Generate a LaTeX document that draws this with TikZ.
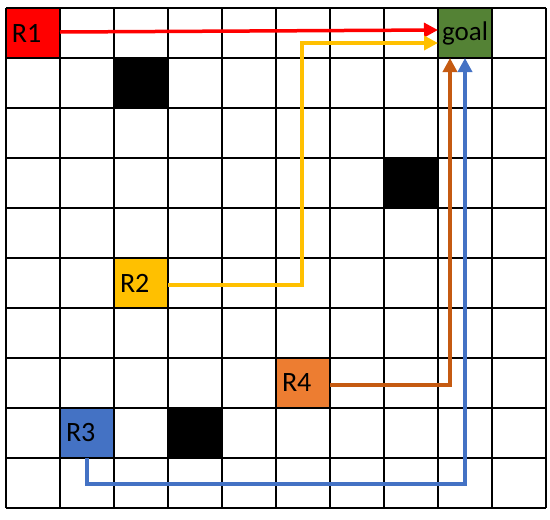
\documentclass[tikz,border=0pt]{standalone}
\usepackage{fontspec}
\setmainfont{Carlito}
\usetikzlibrary{arrows.meta}
\definecolor{cred}{HTML}{FF0000}
\definecolor{cgreen}{HTML}{548235}
\definecolor{cyellow}{HTML}{FFC000}
\definecolor{cblue}{HTML}{4472C4}
\definecolor{corange}{HTML}{ED7D31}
\definecolor{corangedark}{HTML}{C55A11}
\tikzset{
  cell/.style={minimum width=54pt, minimum height=50pt, inner sep=0pt, outer sep=0pt, anchor=north west},
  robot/.style={cell, font=\fontsize{28}{28}\selectfont, text width=42pt, align=left},
  gridline/.style={line width=1.6pt, black},
  route/.style={line width=3.5pt, -{Triangle[length=14pt,width=14pt]}},
}
\begin{document}
\begin{tikzpicture}[x=1pt,y=-1pt]
\useasboundingbox (0,0) rectangle (550,520);
% colored cells
\node[robot, fill=cred] (r1) at (6,8) {R1};
\node[cell, fill=cgreen, font=\fontsize{27}{27}\selectfont] (goal) at (438,8) {goal};
\node[robot, fill=cyellow] (r2) at (114,258) {R2};
\node[robot, fill=cblue] (r3) at (60,408) {R3};
\node[robot, fill=corange] (r4) at (276,358) {R4};
\node[cell, fill=black] (b1) at (114,58) {};
\node[cell, fill=black] (b2) at (384,158) {};
\node[cell, fill=black] (b3) at (168,408) {};
% grid
\foreach \i in {0,...,10} {
  \draw[gridline] (6+54*\i,8) -- (6+54*\i,508);
  \draw[gridline] (6,8+50*\i) -- (546,8+50*\i);
}
% routes
\draw[route, cred] ([yshift=1pt]r1.east) -- ([yshift=3pt]goal.west);
\draw[route, cyellow] ([yshift=-2pt]r2.east) -- ++(134,0) |- ([yshift=-10pt]goal.west);
\draw[route, corangedark] ([yshift=-2pt]r4.east) -| ([xshift=-15pt]goal.south);
\draw[route, cblue] (r3.south) -- ++(0,26) -| (goal.south);
\end{tikzpicture}
\end{document}
